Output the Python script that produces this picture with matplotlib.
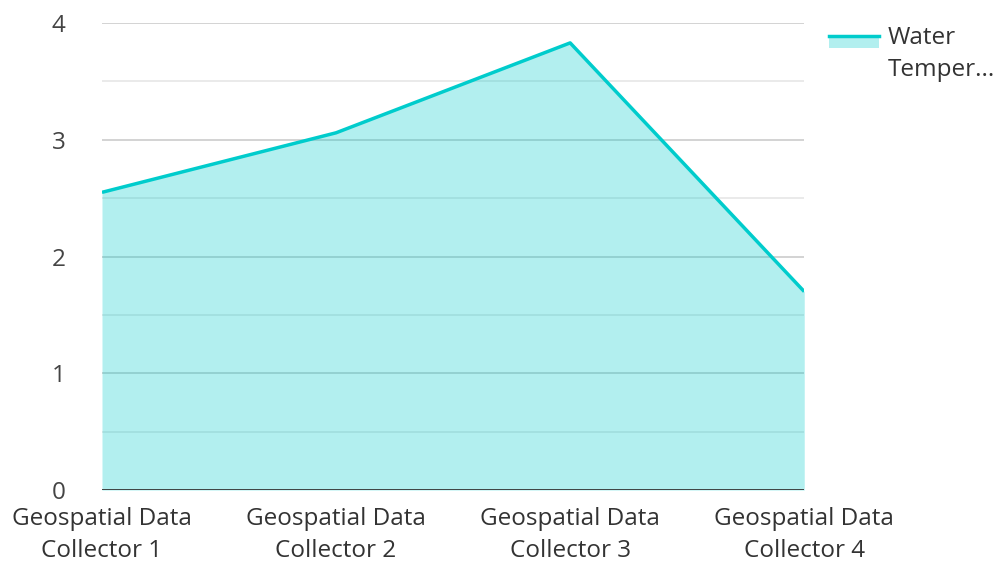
import matplotlib.pyplot as plt
from matplotlib.patches import Rectangle
from matplotlib.lines import Line2D

plt.rcParams['font.family'] = ['Open Sans', 'DejaVu Sans']

categories = ['Geospatial Data\nCollector 1', 'Geospatial Data\nCollector 2',
              'Geospatial Data\nCollector 3', 'Geospatial Data\nCollector 4']
water_temp = [2.55, 3.06, 3.83, 1.70]
series_name = 'Water\nTemper...'

couleur = '#00cccc'
x = list(range(len(categories)))

fig = plt.figure(figsize=(9.94, 5.62), dpi=100)
ax = fig.add_axes([0.1026, 0.128, 0.7065, 0.831])

# grille principale et secondaire
for v in [0.5, 1.5, 2.5, 3.5]:
    ax.axhline(v, color='#e6e6e6', linewidth=1.2, zorder=1)
for v in [1, 2, 3, 4]:
    ax.axhline(v, color='#cccccc', linewidth=1.2, zorder=1)

ax.fill_between(x, water_temp, 0, color=couleur, alpha=0.3, linewidth=0, zorder=2)
ax.plot(x, water_temp, color=couleur, linewidth=2.5, zorder=3, solid_capstyle='butt')
ax.axhline(0, color='#333333', linewidth=2, zorder=4)

ax.set_xlim(0, 3)
ax.set_ylim(0, 4)
ax.set_xticks(x)
ax.set_xticklabels(categories, fontsize=17.5, color='#333333', linespacing=1.45)
ax.set_yticks([0, 1, 2, 3, 4])
ax.set_yticklabels(['0', '1', '2', '3', '4'], fontsize=17.5, color='#444444')
ax.tick_params(axis='both', length=0)
ax.tick_params(axis='y', pad=26)
ax.tick_params(axis='x', pad=12)
for s in ax.spines.values():
    s.set_visible(False)

# légende faite à la main
W, H = 994, 562
fig.patches.append(Rectangle((829 / W, 1 - 48 / H), 50 / W, 13 / H,
                             transform=fig.transFigure, facecolor=couleur,
                             alpha=0.3, edgecolor='none'))
fig.lines.append(Line2D([829 / W, 879 / W], [1 - 36 / H, 1 - 36 / H],
                        transform=fig.transFigure, color=couleur, linewidth=2.5))
fig.text(888 / W, 1 - 54 / H, series_name, fontsize=17.5, color='#333333',
         ha='left', va='center', linespacing=1.5)

plt.savefig('out.png', dpi=100)
